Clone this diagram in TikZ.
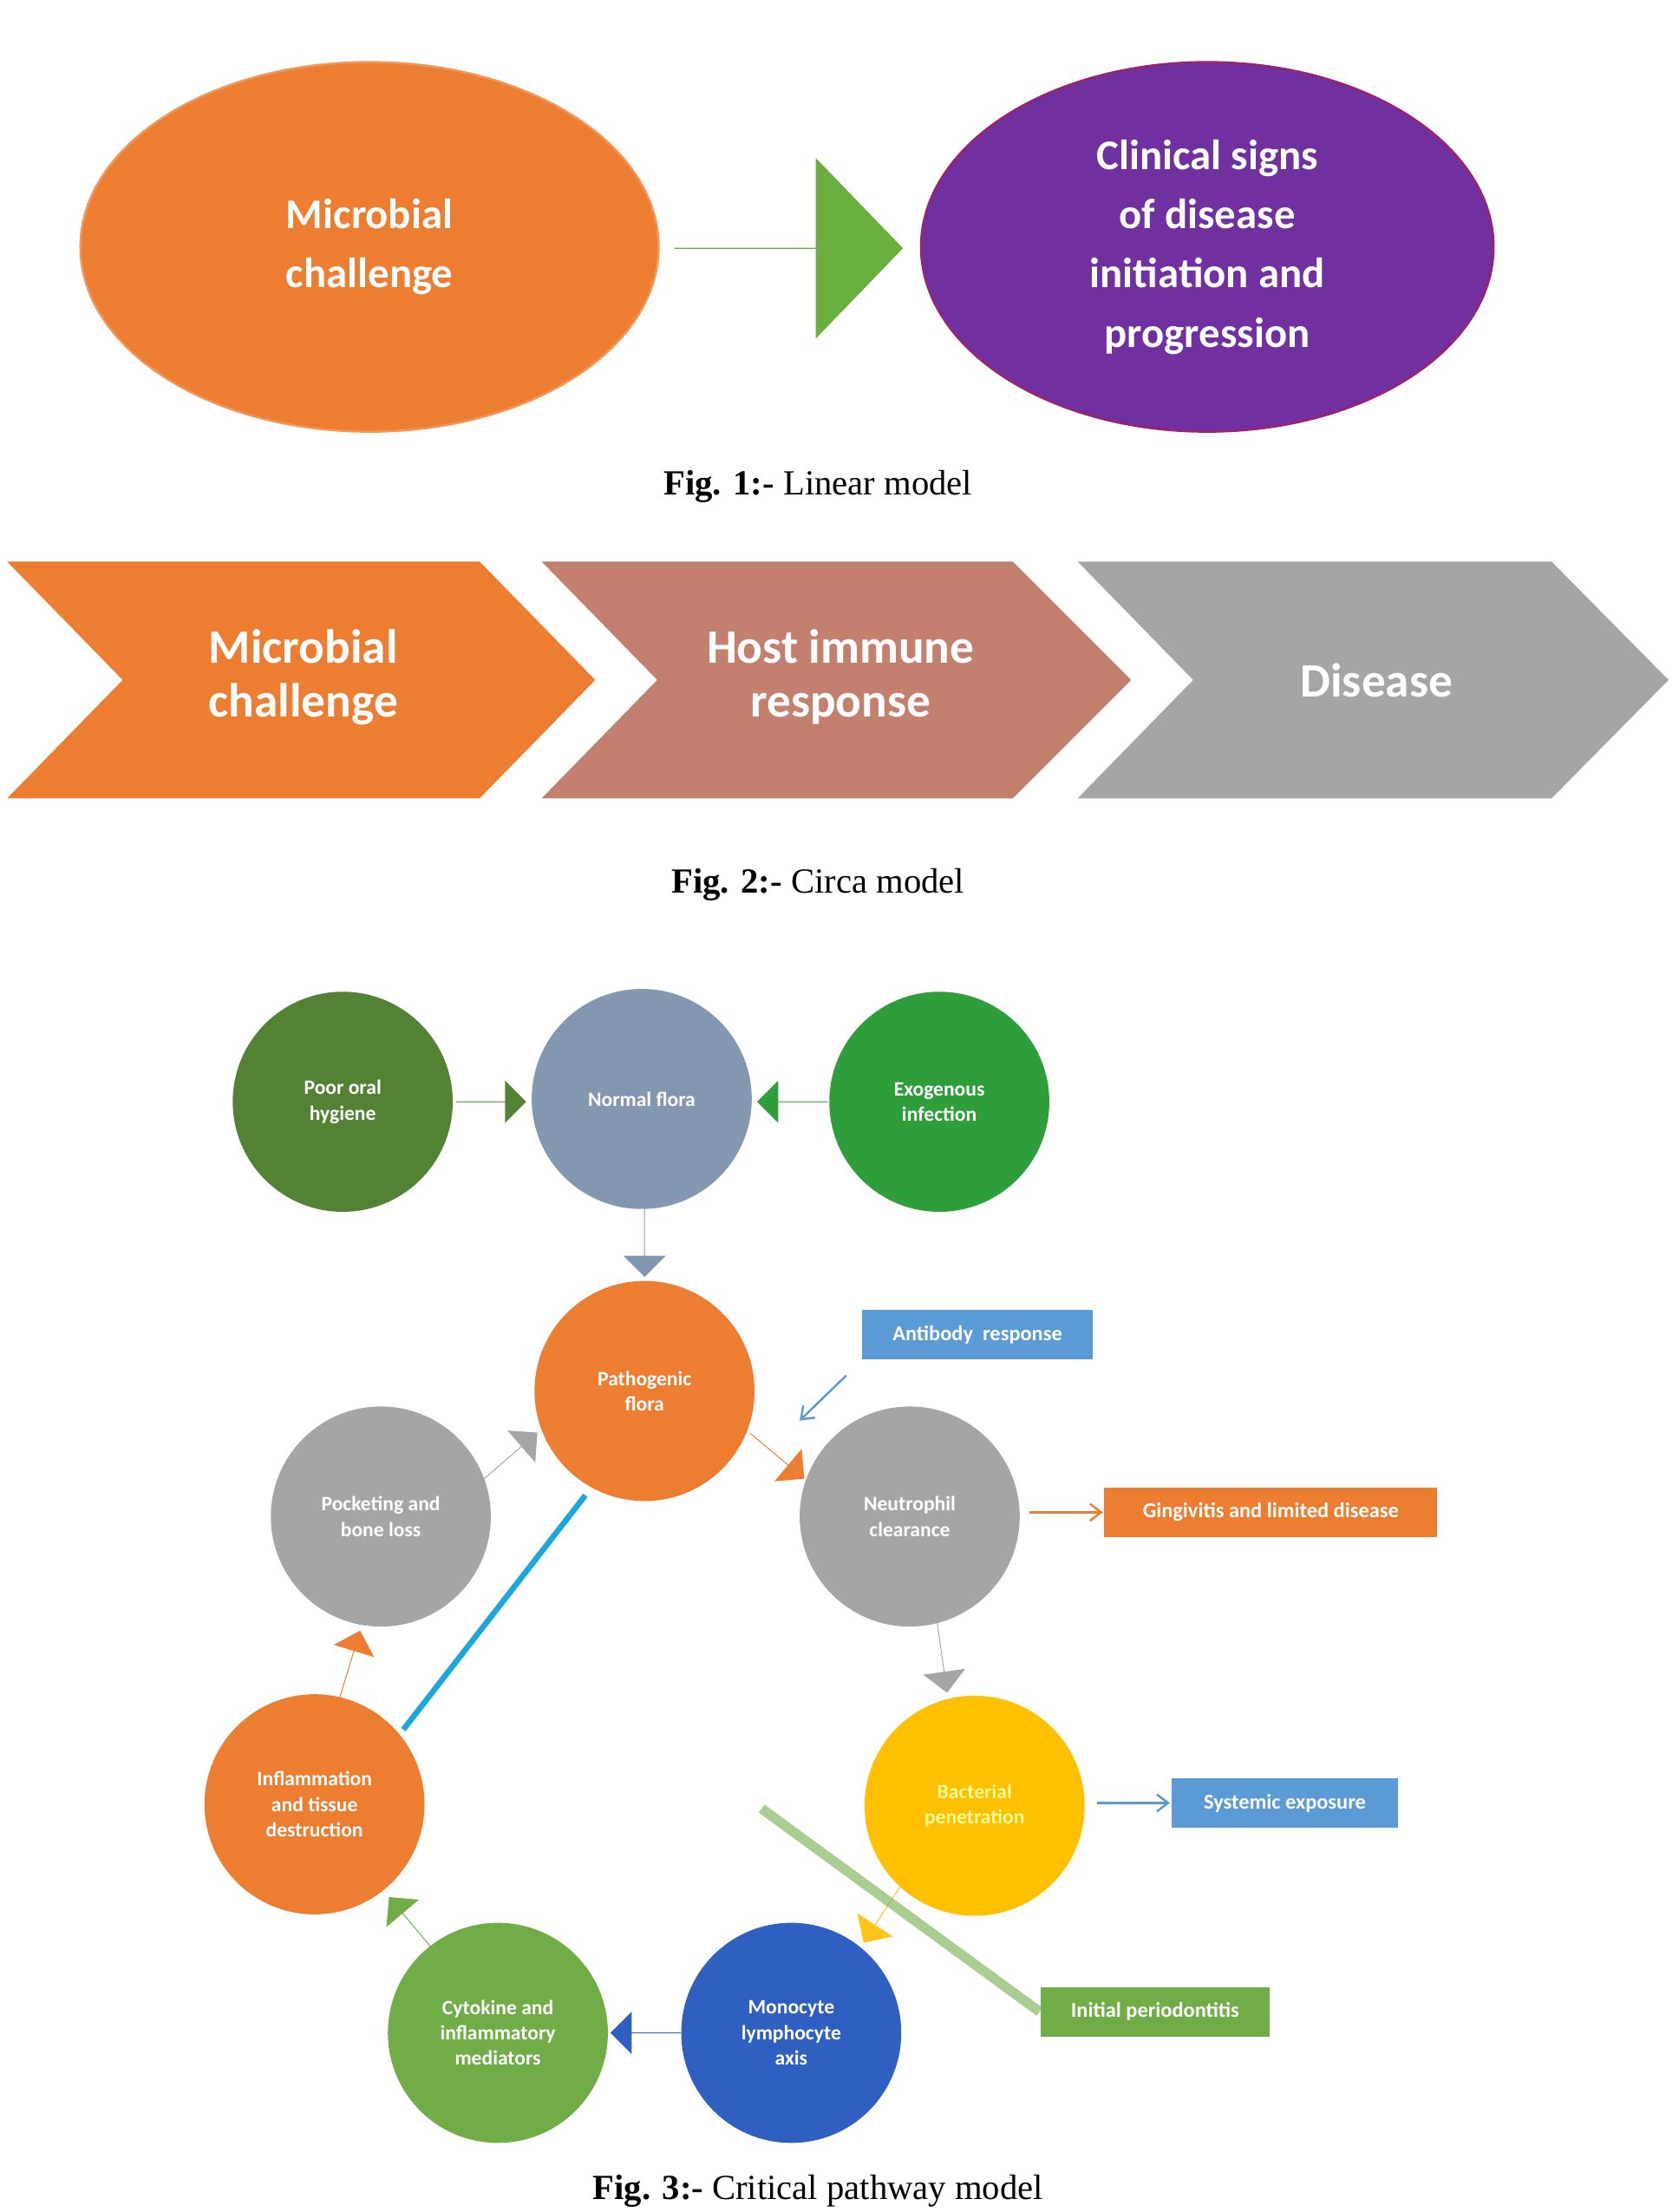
\documentclass[tikz,border=0pt]{standalone}
\usepackage{fontspec}
\setmainfont{Liberation Serif}
\newfontfamily\carl{Carlito}
\usetikzlibrary{shapes.geometric,shapes.arrows,arrows.meta}
\definecolor{orA}{HTML}{ED7D31}
\definecolor{purA}{HTML}{7030A0}
\definecolor{grA}{HTML}{6AAF3D}
\definecolor{chevB}{HTML}{C4806E}
\definecolor{grayA}{HTML}{A5A5A5}
\definecolor{dgreen}{HTML}{548235}
\definecolor{bgray}{HTML}{8497B0}
\definecolor{exog}{HTML}{2E9E3A}
\definecolor{yel}{HTML}{FFC000}
\definecolor{blu}{HTML}{2F5FC0}
\definecolor{lgreen}{HTML}{70AD47}
\definecolor{boxblue}{HTML}{5B9BD5}
\definecolor{cyanl}{HTML}{1AA7E0}
\begin{document}
\begin{tikzpicture}[x=1pt,y=-1pt,
  big/.style={font=\carl\bfseries\fontsize{30}{42}\selectfont,text=white,align=center},
  chev/.style={font=\carl\bfseries\fontsize{34}{38}\selectfont,text=white,align=center},
  figcap/.style={font=\fontsize{25}{30}\selectfont},
  circ/.style={circle,minimum size=156,inner sep=0,font=\carl\bfseries\fontsize{14.5}{18}\selectfont,text=white,align=center},
  blk/.style={single arrow,inner sep=0,minimum width=30,single arrow head extend=10,minimum height=50,draw=none},
  tag/.style={font=\carl\bfseries\fontsize{15}{18}\selectfont,text=white,draw=white,line width=1,inner sep=0,minimum height=36},
  thin/.style={line width=1.5,-{Straight Barb[length=8,width=12]}}]
\useasboundingbox (0,0) rectangle (1190,1568);
\fill[white] (0,0) rectangle (1190,1568);
% Fig 1
\node[ellipse,minimum width=410,minimum height=262,fill=orA,draw=orA!80!white,line width=1.5,big] (mc) at (262,175) {Microbial\\challenge};
\node[ellipse,minimum width=406,minimum height=262,fill=purA,draw=purA!70!red,line width=1.5,big] (cs) at (856,175) {Clinical signs\\of disease\\initiation and\\progression};
\node[single arrow,fill=grA,inner sep=0,minimum height=162,minimum width=128,single arrow head extend=31,single arrow tip angle=92] (ga) at (559,176) {};
\node[figcap] (c1) at (580,345) {\textbf{Fig. 1:-} Linear model};
% Fig 2
\fill[orA] (5,398) -- (340,398) -- (422,482) -- (340,566) -- (5,566) -- (87,482) -- cycle;
\fill[chevB] (384,398) -- (718,398) -- (802,482) -- (718,566) -- (384,566) -- (466,482) -- cycle;
\fill[grayA] (764,398) -- (1100,398) -- (1183,482) -- (1100,566) -- (764,566) -- (846,482) -- cycle;
\node[chev] (t1) at (215,480) {Microbial\\challenge};
\node[chev] (t2) at (596,480) {Host immune\\response};
\node[chev] (t3) at (976,482) {Disease};
\node[figcap] (c2) at (580,627) {\textbf{Fig. 2:-} Circa model};
% Fig 3 circles
\node[circ,fill=dgreen] (poor) at (243,781) {Poor oral\\hygiene};
\node[circ,fill=bgray] (norm) at (455,779) {Normal flora};
\node[circ,fill=exog] (exo) at (666,781) {Exogenous\\infection};
\node[circ,fill=orA] (path) at (457,986) {Pathogenic\\flora};
\node[circ,fill=grayA] (neut) at (645,1075) {Neutrophil\\clearance};
\node[circ,fill=yel,text=yellow!40] (bact) at (691,1280) {Bacterial\\penetration};
\node[circ,fill=blu] (mono) at (561,1441) {Monocyte\\lymphocyte\\axis};
\node[circ,fill=lgreen] (cyto) at (353,1441) {Cytokine and\\inflammatory\\mediators};
\node[circ,fill=orA] (infl) at (223,1279) {Inflammation\\and tissue\\destruction};
\node[circ,fill=grayA] (pock) at (270,1075) {Pocketing and\\bone loss};
% block arrows
\node[blk,fill=dgreen] (a1) at (348,781) {};
\node[blk,fill=exog,rotate=180] (a2) at (562,781) {};
\node[blk,fill=bgray,rotate=-90] (a3) at (457,880) {};
\node[blk,fill=orA,rotate=-40] (a4) at (551,1032) {};
\node[blk,fill=grayA,rotate=-82] (a5) at (668,1175) {};
\node[blk,fill=yel,rotate=-123,opacity=0.9] (a6) at (626,1356) {};
\node[blk,fill=blu,rotate=180] (a7) at (458,1441) {};
\node[blk,fill=lgreen,rotate=130] (a8) at (292,1364) {};
\node[blk,fill=orA,rotate=73] (a9) at (248,1180) {};
\node[blk,fill=grayA,rotate=41] (a10) at (362,1032) {};
% tags
\node[tag,fill=boxblue,minimum width=164] (ab) at (693,946) {Antibody\ \ response};
\node[tag,fill=orA,minimum width=237] (gi) at (901,1072) {Gingivitis and limited disease};
\node[tag,fill=boxblue,minimum width=162] (se) at (911,1278) {Systemic exposure};
\node[tag,fill=lgreen,minimum width=163] (ip) at (819,1426) {Initial periodontitis};
\coordinate (abs) at (600,975); \coordinate (abe) at (567,1007);
\draw[thin,draw=boxblue] (abs) -- (abe);
\coordinate (gis) at (730,1072);
\draw[thin,draw=orA] (gis) -- (gi.west);
\coordinate (ses) at (778,1278);
\draw[thin,draw=boxblue] (ses) -- (se.west);
\coordinate (ips) at (540,1282);
\draw[line width=7,draw=lgreen,opacity=0.6] (ips) -- (ip.west);
\coordinate (cy1) at (415,1060); \coordinate (cy2) at (286,1226);
\draw[line width=4,draw=cyanl] (cy1) -- (cy2);
\node[figcap] (c3) at (580,1553) {\textbf{Fig. 3:-} Critical pathway model};
\end{tikzpicture}
\end{document}
